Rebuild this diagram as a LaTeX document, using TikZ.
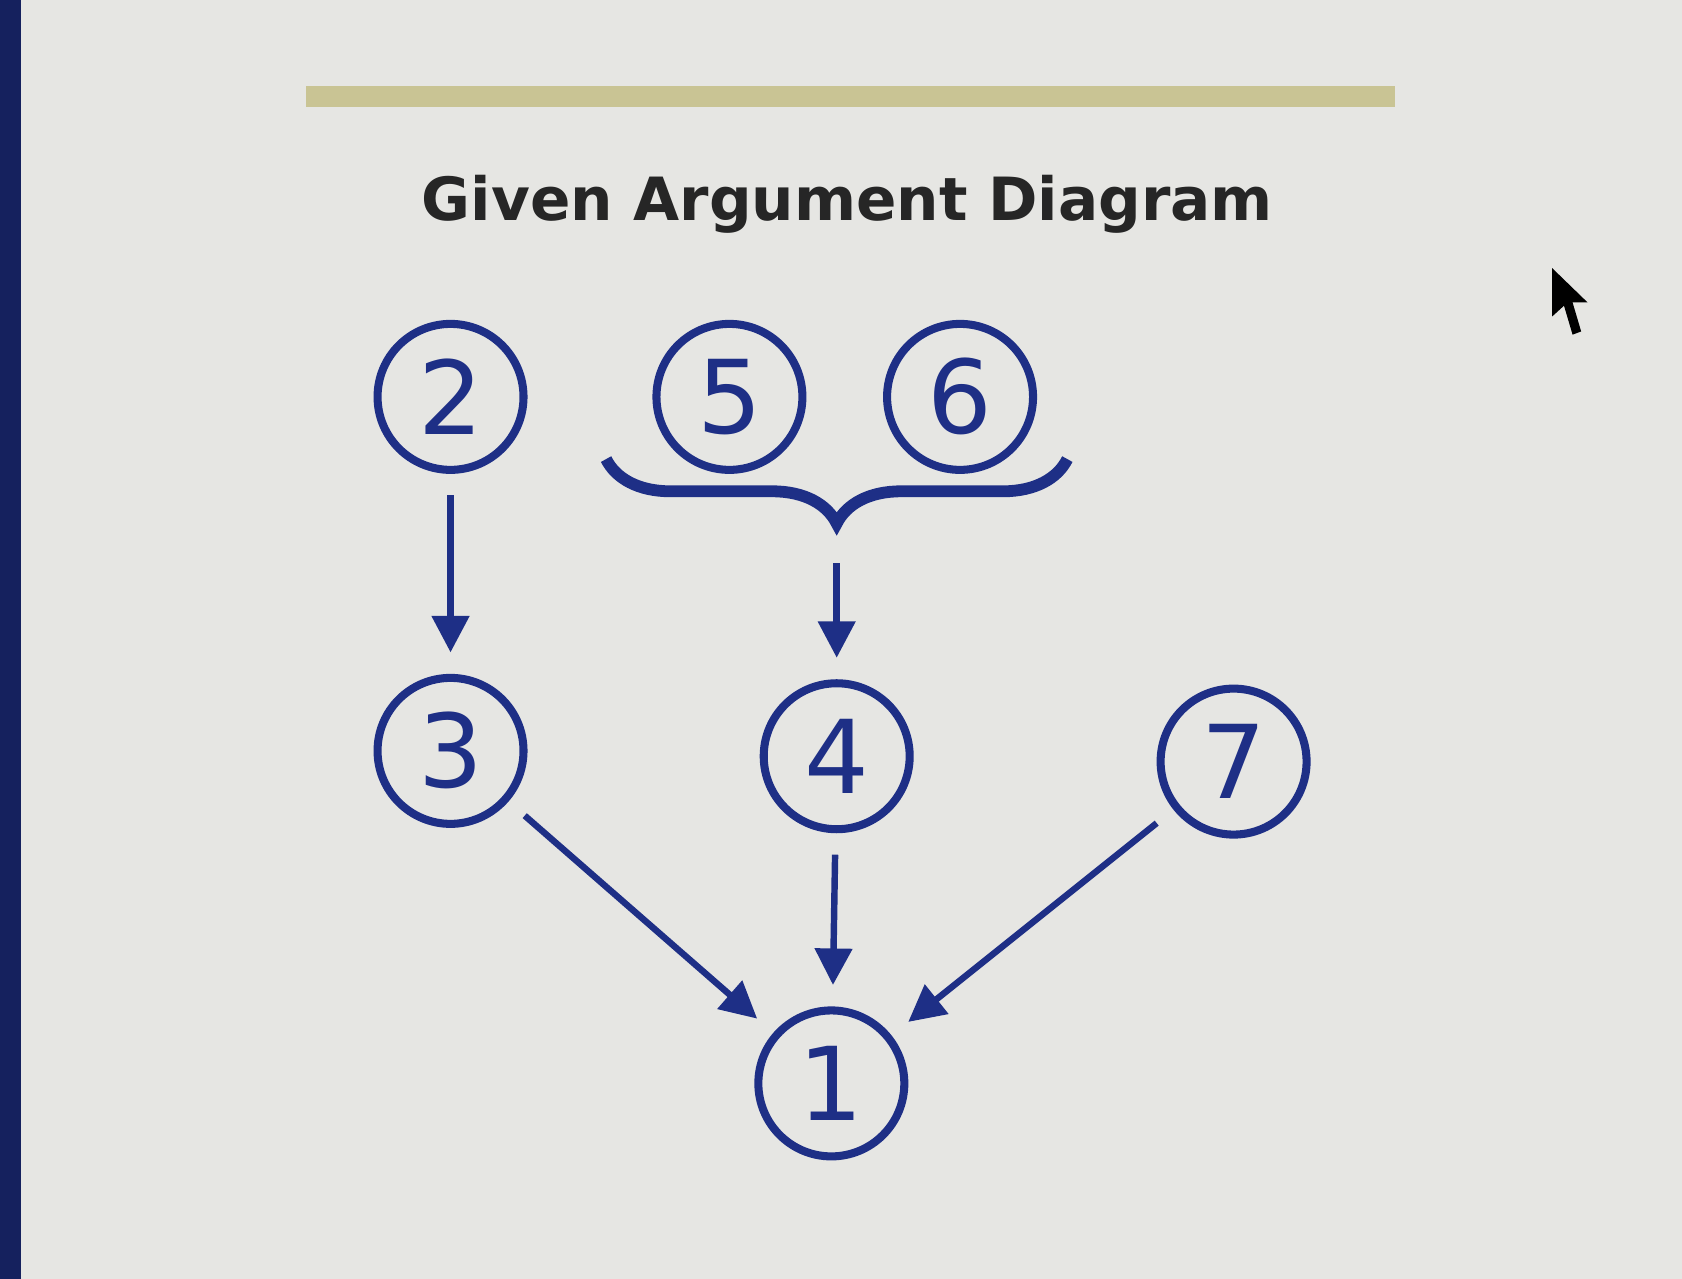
\documentclass[tikz,border=0pt]{standalone}
\usepackage{fontspec}
\setmainfont{DejaVu Sans}
\usetikzlibrary{arrows.meta,decorations.pathreplacing}
\definecolor{navy}{HTML}{1E2F86}
\definecolor{bg}{HTML}{E6E6E3}
\definecolor{gold}{HTML}{C9C494}
\begin{document}
\begin{tikzpicture}[x=0.01cm,y=-0.01cm,
  prop/.style={circle,draw=navy,line width=0.075cm,minimum size=1.36cm,inner sep=0pt,text=navy,font=\fontsize{27}{30}\selectfont},
  arr/.style={navy,line width=0.06cm,shorten <=0.2cm,shorten >=0.2cm,-{Triangle[length=0.34cm,width=0.34cm]}}]
\fill[bg] (0,0) rectangle (1568,1192);
\useasboundingbox (0,0) rectangle (1568,1192);
\fill[navy!70!black] (0,0) rectangle (20,1192);
\fill[gold] (285,80) rectangle (1300,100);
\node[font=\bfseries\fontsize{15.8}{19}\selectfont,text=black!85] (title) at (790,190) {Given Argument Diagram};
\node[prop] (n2) at (420,370) {2};
\node[prop] (n5) at (680,370) {5};
\node[prop] (n6) at (895,370) {6};
\node[prop] (n3) at (420,700) {3};
\node[prop] (n4) at (780,705) {4};
\node[prop] (n7) at (1150,710) {7};
\node[prop] (n1) at (775,1010) {1};
\coordinate (bl) at (565,428);
\coordinate (br) at (995,428);
\draw[navy,line width=0.11cm,decoration={brace,mirror,amplitude=0.6cm,raise=0pt},decorate] (bl) -- (br);
\coordinate (bt) at (780,505);
\draw[arr] (n2) -- (n3);
\draw[arr] (bt) -- (n4);
\draw[arr] (n4) -- (n1);
\draw[arr] (n3) -- (n1);
\draw[arr] (n7) -- (n1);
\fill[black] (1447,250) -- (1447,295) -- (1458,285) -- (1466,312) -- (1474,309) -- (1466,282) -- (1480,282) -- cycle;
\end{tikzpicture}
\end{document}
